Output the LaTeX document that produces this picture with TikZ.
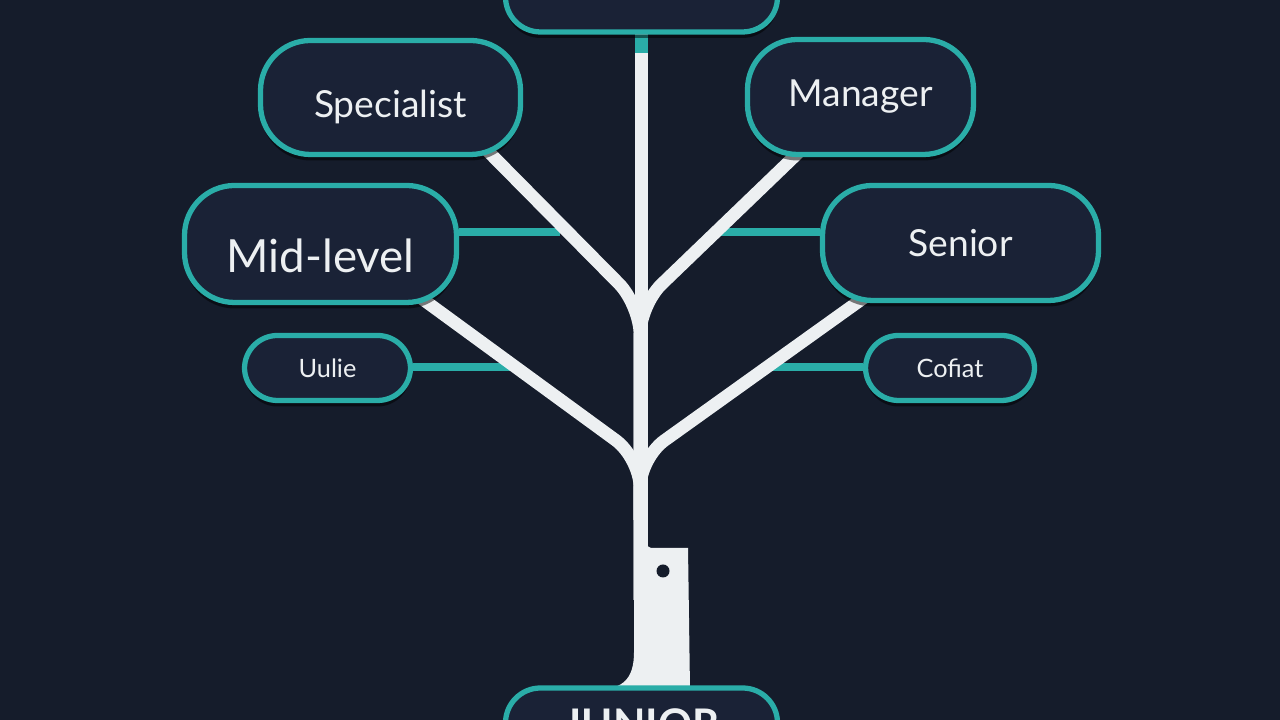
\documentclass[tikz,border=0pt]{standalone}
\usepackage{fontspec}
\setmainfont{Lato}
\usetikzlibrary{shadows}
\definecolor{night}{HTML}{151C2B}
\definecolor{boxfill}{HTML}{1A2236}
\definecolor{tealline}{HTML}{2AADA8}
\definecolor{bark}{HTML}{EDF0F2}
\pgfdeclarelayer{ground}
\pgfdeclarelayer{links}
\pgfsetlayers{ground,links,main}

\begin{document}
\begin{tikzpicture}[inner sep=0pt,
	level node/.style={rectangle, rounded corners=0.5cm, draw=tealline, line width=1.5pt, fill=boxfill, text=bark,
		font=\fontsize{10.6}{12}\selectfont, drop shadow={black, opacity=0.5, shadow xshift=0pt, shadow yshift=-0.06cm}},
	small node/.style={level node, rounded corners=0.33cm, font=\fontsize{7.2}{9}\selectfont},
	branch/.style={draw=bark, line width=3.6pt, rounded corners=0.3cm, shorten <=-0.15cm},
	bar/.style={draw=tealline, line width=2.4pt}]

	\useasboundingbox (0,0) rectangle (12.8,7.2);

	% Boxes of the ladder
	\node[level node, minimum width=2.72cm, minimum height=0.72cm, rounded corners=0.35cm] (top) at (6.415,7.24) {};
	\node[level node, minimum width=2.60cm, minimum height=1.14cm, text height=0.42cm, text depth=0.02cm] (spec) at (3.905,6.225) {Specialist};
	\node[level node, minimum width=2.26cm, minimum height=1.15cm] (mgr) at (8.605,6.23) {Manager};
	\node[level node, minimum width=2.72cm, minimum height=1.17cm, font=\fontsize{13}{15}\selectfont,
		text height=0.57cm, text depth=0pt] (mid) at (3.205,4.76) {Mid-level};
	\node[level node, minimum width=2.76cm, minimum height=1.15cm] (sen) at (9.605,4.77) {Senior};
	\node[small node, minimum width=1.66cm, minimum height=0.65cm] (uul) at (3.275,3.52) {Uulie};
	\node[small node, minimum width=1.69cm, minimum height=0.65cm] (cof) at (9.50,3.52) {Cofiat};
	\node[level node, minimum width=2.72cm, minimum height=0.72cm, rounded corners=0.35cm,
		font=\fontsize{12}{14}\selectfont\bfseries] (bot) at (6.415,-0.04) {JUNIOR};

	% Joints on the trunk
	\coordinate (jUp) at (6.40,4.15);
	\coordinate (jLow) at (6.40,2.62);
	\coordinate (midEnd) at (5.60,4.88);
	\coordinate (senEnd) at (7.15,4.88);
	\coordinate (uulEnd) at (5.15,3.53);
	\coordinate (cofEnd) at (7.62,3.53);

	\begin{pgfonlayer}{ground}
	\fill[night] (0,0) rectangle (12.8,7.2);
	\end{pgfonlayer}

	\begin{pgfonlayer}{links}
	% Teal bars
	\path[bar] (mid.east |- midEnd) -- (midEnd);
	\path[bar] (sen.west |- senEnd) -- (senEnd);
	\path[bar] (uul.east |- uulEnd) -- (uulEnd);
	\path[bar] (cof.west |- cofEnd) -- (cofEnd);

	% Trunk and branches
	\path[branch] (top.south) -- (bot.north);
	\path[branch] (spec.-30) -- (jUp) -- (6.40,2.0);
	\path[branch] (mgr.222) -- (jUp) -- (6.40,2.0);
	\path[branch] (mid.-29) -- (jLow) -- (6.40,1.2);
	\path[branch] (sen.210) -- (jLow) -- (6.40,1.2);
	\path[bar, line width=3.6pt] (top.south) -- ++(0,-0.18);

	% Foot of the trunk
	\fill[bark] (6.34,2.2) -- (6.34,0.68) .. controls (6.34,0.40) and (6.22,0.32) .. (6.00,0.30)
		-- (6.90,0.30) -- (6.88,1.72) -- (6.56,1.72) .. controls (6.47,1.72) .. (6.47,1.84) -- (6.47,2.2) -- cycle;
	\fill[night] (6.63,1.49) circle (0.065);
	\end{pgfonlayer}
\end{tikzpicture}
\end{document}
